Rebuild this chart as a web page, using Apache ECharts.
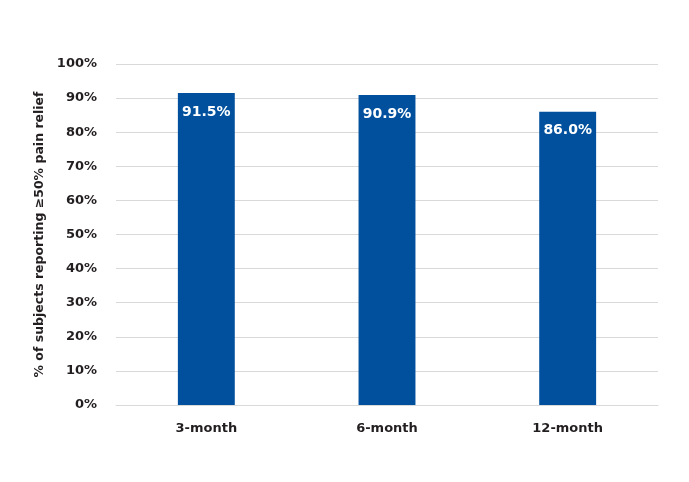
<!DOCTYPE html>
<html><head><meta charset="utf-8">
<script src="https://cdn.jsdelivr.net/npm/echarts@6/dist/echarts.min.js"></script>
<style>html,body{margin:0;padding:0;background:#fff}#c{width:689px;height:482px}</style>
</head><body><div id="c"></div>
<script>
const categories = ['3-month', '6-month', '12-month'];
const values = [91.5, 90.9, 86.0];
const yAxisTitle = '% of subjects reporting \u226550% pain relief';

const FONT = 'DejaVu Sans';
const chart = echarts.init(document.getElementById('c'));
chart.setOption({
  animation: false,
  grid: { left: 116, right: 31, top: 64, bottom: 77 },
  xAxis: {
    type: 'category', data: categories,
    axisLine: { show: true, lineStyle: { color: '#d9d9d9' } },
    axisTick: { show: false },
    axisLabel: { color: '#231f20', fontFamily: FONT, fontWeight: 'bold', fontSize: 13, margin: 17 }
  },
  yAxis: {
    type: 'value', min: 0, max: 100, interval: 10,
    name: yAxisTitle, nameLocation: 'middle', nameGap: 70, nameRotate: 90,
    nameTextStyle: { color: '#231f20', fontFamily: FONT, fontWeight: 'bold', fontSize: 12.5 },
    axisLine: { show: false }, axisTick: { show: false },
    splitLine: { lineStyle: { color: '#d9d9d9' } },
    axisLabel: { color: '#231f20', fontFamily: FONT, fontWeight: 'bold', fontSize: 13, margin: 19, formatter: '{value}%' }
  },
  series: [{
    type: 'bar', data: values, barWidth: '31.5%',
    itemStyle: { color: '#00509e' },
    label: { show: true, position: 'insideTop', distance: 12, color: '#fff', fontFamily: FONT, fontWeight: 'bold', fontSize: 14,
      formatter: p => p.value.toFixed(1) + '%' }
  }]
});
</script></body></html>
